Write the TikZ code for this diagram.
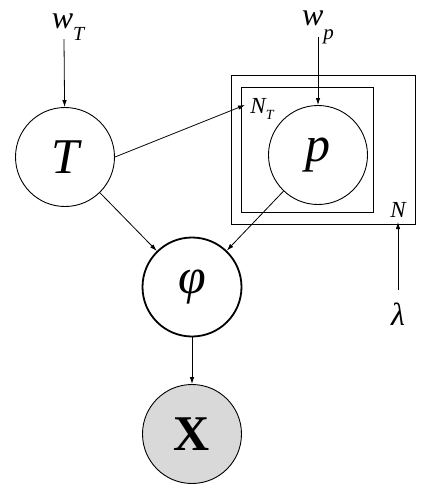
\documentclass[tikz,border=0pt]{standalone}
\usepackage{fontspec}
\setmainfont{Liberation Serif}
\usetikzlibrary{arrows.meta}

\newcommand{\fs}[1]{\fontsize{#1}{#1}\selectfont}

\begin{document}
\begin{tikzpicture}[x=1pt, y=-1pt,
    latent/.style={circle, draw, line width=0.9pt, minimum size=99pt, inner sep=0pt, font=\fs{50}},
    obs/.style={latent, fill=black!15},
    arr/.style={-{Latex[length=7pt,width=4.5pt]}, line width=0.8pt},
    plate/.style={draw, line width=1pt}]
            \useasboundingbox (0,0) rectangle (429,491);
            \node[latent] (T) at (65,157) {\itshape T};
            \node[latent] (p) at (318,155) {\itshape p};
            \node[latent, line width=1.8pt] (phi) at (192,287) {\itshape φ};
            \node[obs] (X) at (192,434) {\bfseries X};
            \node (wT) at (68,27) {{\fs{32}\itshape w}\raisebox{-12pt}{\fs{20}\itshape T}};
            \node (wp) at (318,27) {{\fs{32}\itshape w}\raisebox{-14pt}{\fs{21}\itshape p}};
            \node (lambda) at (398,314) {\fs{32}\itshape λ};
            \draw[plate] (231,75) rectangle (415,224);
            \draw[plate] (241,87) rectangle (373,212);
            \node (NT) at (262,109) {{\fs{23}\itshape N}\raisebox{-6pt}{\fs{14}\itshape T}};
            \node (N) at (398,210) {\fs{23}\itshape N};
            \coordinate (wTtail) at (64,39);
            \coordinate (wptail) at (318,37);
            \coordinate (NTcorner) at (245,105);
            \coordinate (Ncorner) at (398,222);
            \coordinate (lambdatail) at (398,290);
            \draw[arr] (wTtail) -- (T);
            \draw[arr] (wptail) -- (p);
            \draw[arr] (T.east) -- (NTcorner);
            \draw[arr] (T) -- (phi);
            \draw[arr] (p) -- (phi);
            \draw[arr] (phi) -- (X);
            \draw[arr] (lambdatail) -- (Ncorner);
        \end{tikzpicture}
\end{document}
